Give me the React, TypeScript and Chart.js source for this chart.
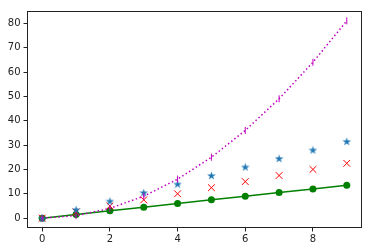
import React, { useEffect, useRef } from "react";
import { Chart, registerables } from "chart.js";

Chart.register(...registerables);

const xValues = [0, 1, 2, 3, 4, 5, 6, 7, 8, 9];
const greenValues = [0, 1.5, 3, 4.5, 6, 7.5, 9, 10.5, 12, 13.5];
const redValues = [0, 2.5, 5, 7.5, 10, 12.5, 15, 17.5, 20, 22.5];
const blueValues = [0, 3.5, 7, 10.5, 14, 17.5, 21, 24.5, 28, 31.5];
const magentaValues = [0, 1, 4, 9, 16, 25, 36, 49, 64, 81];

const xTicks = [0, 2, 4, 6, 8];
const yTicks = [0, 10, 20, 30, 40, 50, 60, 70, 80];

const toPoints = (ys: number[]) => xValues.map((x, i) => ({ x, y: ys[i] }));

function makeStar(color: string, size: number): HTMLCanvasElement {
  const c = document.createElement("canvas");
  c.width = size;
  c.height = size;
  const ctx = c.getContext("2d")!;
  const cx = size / 2;
  const cy = size / 2 + 0.4;
  const outer = size / 2;
  const inner = outer * 0.382;
  ctx.beginPath();
  for (let i = 0; i < 10; i++) {
    const r = i % 2 === 0 ? outer : inner;
    const a = -Math.PI / 2 + (i * Math.PI) / 5;
    const px = cx + r * Math.cos(a);
    const py = cy + r * Math.sin(a);
    if (i === 0) ctx.moveTo(px, py);
    else ctx.lineTo(px, py);
  }
  ctx.closePath();
  ctx.fillStyle = color;
  ctx.fill();
  return c;
}

const framePlugin = {
  id: "frame",
  afterDatasetsDraw(chart: any) {
    const { ctx, chartArea } = chart;
    ctx.save();
    ctx.strokeStyle = "#222";
    ctx.lineWidth = 1;
    const l = Math.round(chartArea.left) + 0.5;
    const t = Math.round(chartArea.top) + 0.5;
    const r = Math.round(chartArea.right) - 0.5;
    const b = Math.round(chartArea.bottom) - 0.5;
    ctx.strokeRect(l, t, r - l, b - t);
    ctx.restore();
  },
};

export default function App() {
  const ref = useRef<HTMLCanvasElement>(null);
  useEffect(() => {
    if (!ref.current) return;
    const star = makeStar("#1f77b4", 9);
    const tickFont = { family: "DejaVu Sans", size: 10 };
    const chart = new Chart(ref.current, {
      type: "scatter",
      data: {
        datasets: [
          {
            data: toPoints(greenValues),
            showLine: true,
            borderColor: "#008000",
            backgroundColor: "#008000",
            borderWidth: 1.5,
            pointStyle: "circle",
            pointRadius: 3.5,
            pointBorderWidth: 0,
            order: 4,
          },
          {
            data: toPoints(redValues),
            showLine: false,
            borderColor: "#ff0000",
            backgroundColor: "#ff0000",
            pointStyle: "crossRot",
            pointRadius: 4.8,
            pointBorderWidth: 1,
            order: 3,
          },
          {
            data: toPoints(blueValues),
            showLine: false,
            borderColor: "#1f77b4",
            backgroundColor: "#1f77b4",
            pointStyle: star as any,
            pointRadius: 4.5,
            order: 2,
          },
          {
            data: toPoints(magentaValues),
            showLine: true,
            borderColor: "#bf00bf",
            backgroundColor: "#bf00bf",
            borderWidth: 1.5,
            borderDash: [1.5, 2.5],
            pointStyle: "line",
            rotation: 90,
            pointRadius: 3.5,
            pointBorderWidth: 1,
            order: 1,
          } as any,
        ],
      },
      options: {
        animation: false,
        responsive: true,
        maintainAspectRatio: false,
        layout: { padding: { top: 11, right: 10, left: 0, bottom: 0 } },
        plugins: { legend: { display: false }, tooltip: { enabled: false } },
        scales: {
          x: {
            type: "linear",
            min: -0.45,
            max: 9.45,
            afterBuildTicks: (s: any) => {
              s.ticks = xTicks.map((v) => ({ value: v }));
            },
            afterFit: (s: any) => {
              s.height = 24;
            },
            grid: {
              drawOnChartArea: false,
              drawTicks: true,
              tickLength: 3.5,
              color: "#222",
            },
            border: { display: false },
            ticks: {
              font: tickFont,
              color: "#222",
              padding: 2,
              maxRotation: 0,
              callback: (v: any) => String(v),
            },
          },
          y: {
            type: "linear",
            min: -4.05,
            max: 85.05,
            afterBuildTicks: (s: any) => {
              s.ticks = yTicks.map((v) => ({ value: v }));
            },
            afterFit: (s: any) => {
              s.width = 27;
            },
            grid: {
              drawOnChartArea: false,
              drawTicks: true,
              tickLength: 3.5,
              color: "#222",
            },
            border: { display: false },
            ticks: {
              font: tickFont,
              color: "#222",
              padding: 3,
              callback: (v: any) => String(v),
            },
          },
        },
      },
      plugins: [framePlugin],
    } as any);
    return () => chart.destroy();
  }, []);
  return (
    <div style={{ position: "absolute", left: 0, top: 0, width: 372, height: 252, background: "#fff" }}>
      <canvas ref={ref} />
    </div>
  );
}
